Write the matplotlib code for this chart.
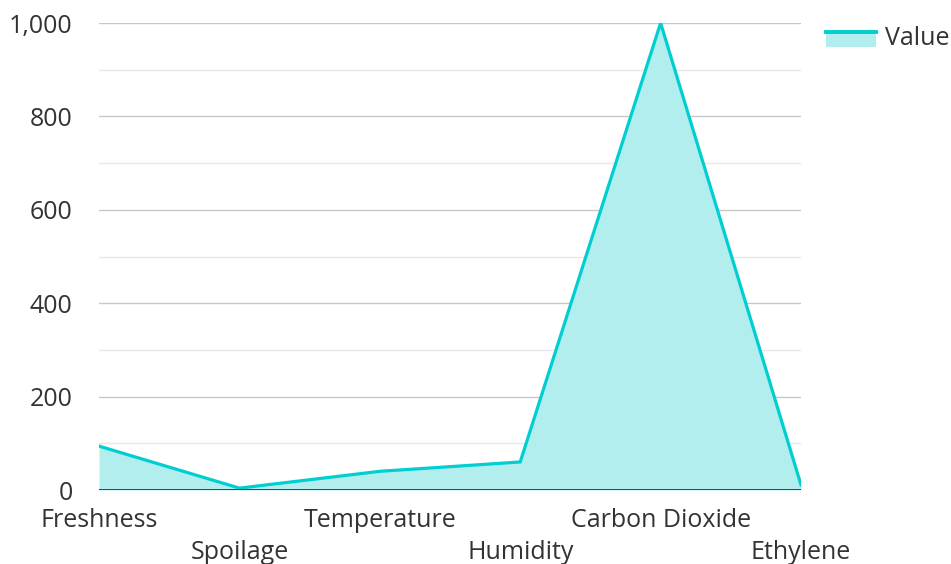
import numpy as np
import matplotlib
matplotlib.use('Agg')
import matplotlib.pyplot as plt
from matplotlib.legend_handler import HandlerBase
from matplotlib.patches import Rectangle
from matplotlib.lines import Line2D
from matplotlib.ticker import FuncFormatter, MultipleLocator

plt.rcParams['font.family'] = ['Open Sans', 'DejaVu Sans']

# data
categories = ['Freshness', 'Spoilage', 'Temperature', 'Humidity', 'Carbon Dioxide', 'Ethylene']
values = [94, 4, 40, 60, 1000, 11]

line_col = '#00CED1'
fill_col = '#B2EEEE'
text_col = '#333333'
fs = 18

fig = plt.figure(figsize=(9.51, 5.64), dpi=100)
ax = fig.add_axes([99/951, 74/564, 702/951, 467/564])

x = np.arange(len(categories))
ax.fill_between(x, 0, values, color=fill_col, lw=0, zorder=2)
ax.plot(x, values, color=line_col, lw=2.3, zorder=3, solid_joinstyle='miter')
ax.axhline(0, color='#333333', lw=2, zorder=4)

ax.set_xlim(0, len(categories) - 1)
ax.set_ylim(0, 1000)

# y grid
ax.yaxis.set_major_locator(MultipleLocator(200))
ax.yaxis.set_minor_locator(MultipleLocator(100))
ax.grid(axis='y', which='major', color='#c8c8c8', lw=1, zorder=0)
ax.grid(axis='y', which='minor', color='#e8e8e8', lw=1, zorder=0)
ax.yaxis.set_major_formatter(FuncFormatter(lambda v, p: f'{int(v):,}'))
ax.tick_params(axis='y', which='both', length=0, pad=19, labelsize=fs, labelcolor=text_col)

# x labels staggered on two rows
ax.set_xticks(x[::2])
ax.set_xticklabels(categories[::2])
ax.set_xticks(x[1::2], minor=True)
ax.set_xticklabels(categories[1::2], minor=True)
ax.tick_params(axis='x', which='major', length=0, pad=13, labelsize=fs, labelcolor=text_col)
ax.tick_params(axis='x', which='minor', length=0, pad=36, labelsize=fs, labelcolor=text_col)

for s in ax.spines.values():
    s.set_visible(False)


class AreaHandler(HandlerBase):
    def create_artists(self, legend, orig, xd, yd, w, h, fs, trans):
        r = Rectangle((-xd, -yd - 2), w, h, facecolor=fill_col, lw=0, transform=trans)
        l = Line2D([-xd, -xd + w], [-yd + h - 3, -yd + h - 3], color=line_col, lw=2.8, transform=trans)
        return [r, l]


ax.legend([Rectangle((0, 0), 1, 1)], ['Value'], handler_map={Rectangle: AreaHandler()},
          loc='upper left', bbox_to_anchor=(816/951, 1 - 16/564), bbox_transform=fig.transFigure,
          frameon=False, fontsize=fs, labelcolor=text_col, handlelength=2.0, handleheight=0.65,
          handletextpad=0.36, borderaxespad=0)

fig.savefig('out.png', dpi=100)
